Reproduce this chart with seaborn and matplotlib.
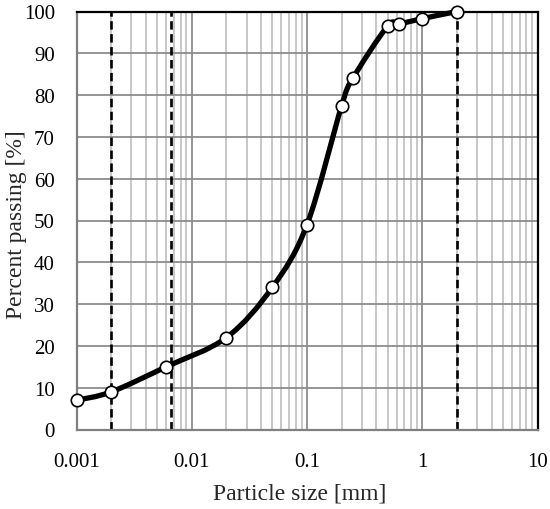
import numpy as np
import matplotlib
matplotlib.use("Agg")
import matplotlib.pyplot as plt
import seaborn as sns
from matplotlib.path import Path
from matplotlib.patches import PathPatch
from matplotlib.ticker import LogLocator, FixedLocator, FixedFormatter, NullFormatter

# ---- data ----
size_mm = [0.001, 0.002, 0.006, 0.02, 0.05, 0.1, 0.2, 0.25, 0.5, 0.63, 1.0, 2.0]
passing = [7, 9, 15, 22, 34, 49, 77.5, 84, 96.5, 97, 98.3, 100]
boundaries_mm = [0.002, 0.0066, 2.0]
x_ticks = [0.001, 0.01, 0.1, 1, 10]
x_tick_labels = ["0.001", "0.01", "0.1", "1", "10"]
y_ticks = list(range(0, 101, 10))

sns.set_style("white")
plt.rcParams["font.family"] = ["Liberation Serif", "DejaVu Serif"]

W, H = 550, 510
fig = plt.figure(figsize=(W / 100, H / 100), dpi=100)
L, R, T, B = 76.5, 537.5, 12.5, 430.5
ax = fig.add_axes([L / W, 1 - B / H, (R - L) / W, (B - T) / H])

ax.set_xscale("log")
ax.set_xlim(x_ticks[0], x_ticks[-1])
ax.set_ylim(y_ticks[0], y_ticks[-1])

ax.xaxis.set_major_locator(FixedLocator(x_ticks))
ax.xaxis.set_major_formatter(FixedFormatter(x_tick_labels))
ax.xaxis.set_minor_locator(LogLocator(base=10, subs=np.arange(2, 10)))
ax.xaxis.set_minor_formatter(NullFormatter())
ax.set_yticks(y_ticks)

ax.set_axisbelow(True)
ax.grid(which="minor", axis="x", color="#c4c4c4", lw=1.3)
ax.grid(which="major", axis="x", color="#8c8c8c", lw=1.3)
ax.grid(which="major", axis="y", color="#8c8c8c", lw=1.3)

ax.tick_params(axis="x", which="both", direction="out", length=5, width=1,
               color="#808080", labelsize=15, pad=11.5, labelcolor="black")
ax.tick_params(axis="y", which="both", length=0, labelsize=15, pad=15.5,
               labelcolor="black")

for side in ("left", "bottom"):
    ax.spines[side].set_color("#808080")
    ax.spines[side].set_linewidth(1.6)
for side in ("top", "right"):
    ax.spines[side].set_color("black")
    ax.spines[side].set_linewidth(1.6)

# boundary dashed lines
for b in boundaries_mm:
    ax.axvline(b, color="black", lw=1.9, ls=(0, (3.2, 1.7)), zorder=2)

# smooth curve through the points (Bezier path, computed in log-x space)
P = np.column_stack([np.log10(size_mm), np.asarray(passing, float)])
Pe = np.vstack([P[0], P, P[-1]])
verts = [P[0]]
codes = [Path.MOVETO]
for i in range(len(P) - 1):
    p0, p1, p2, p3 = Pe[i], Pe[i + 1], Pe[i + 2], Pe[i + 3]
    verts += [p1 + (p2 - p0) / 6.0, p2 - (p3 - p1) / 6.0, p2]
    codes += [Path.CURVE4] * 3
verts = np.array(verts)
verts[:, 0] = 10 ** verts[:, 0]
ax.add_patch(PathPatch(Path(verts, codes), facecolor="none", edgecolor="black",
                       lw=3.8, capstyle="round", joinstyle="round", zorder=3,
                       clip_on=False))

sns.scatterplot(x=size_mm, y=passing, s=80, color="white", edgecolor="black",
                linewidth=1.2, zorder=4, clip_on=False, ax=ax)

ax.set_xlabel("Particle size [mm]", fontsize=17)
ax.set_ylabel("Percent passing [%]", fontsize=17)
ax.xaxis.set_label_coords(0.485, -0.126)
ax.yaxis.set_label_coords(-0.107, 0.492)

fig.savefig("out.png", dpi=100)
